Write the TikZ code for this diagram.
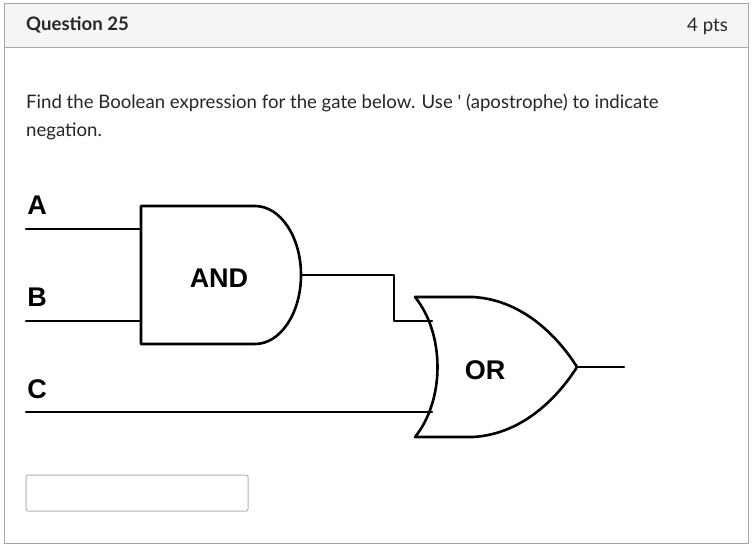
\documentclass[tikz,border=0pt]{standalone}
\usepackage{fontspec}
\setmainfont{Lato}
\newfontfamily\lab{Liberation Sans}
\begin{document}
\begin{tikzpicture}[x=1pt,y=-1pt,
  wire/.style={line width=2.6pt,line cap=round,line join=round},
  gatelbl/.style={font=\lab\bfseries\fontsize{27}{29}\selectfont},
  body/.style={font=\fontsize{18.6}{24}\selectfont,anchor=west,text=black!85,inner sep=0pt}]
\useasboundingbox (0,0) rectangle (753,548);
\fill[white] (0,0) rectangle (753,548);
\draw[fill=black!4,draw=none] (4,4) rectangle (748,48);
\draw[black!35,line width=1pt] (4,4) rectangle (748,543);
\draw[black!35,line width=1pt] (4,48) -- (748,48);
\node[body,font=\bfseries\fontsize{18.6}{24}\selectfont] (q) at (26,25) {Question 25};
\node[body,anchor=east] (p) at (728,26) {4 pts};
\node[body] (t1) at (26,103) {Find the Boolean expression for the gate below. Use \textquotesingle{} (apostrophe) to indicate};
\node[body] (t2) at (26,131) {negation.};
\node[gatelbl] (la) at (37,205) {A};
\node[gatelbl] (lb) at (37,297) {B};
\node[gatelbl] (lc) at (37,389) {C};
% AND gate
\draw[wire] (141,206) -- (255,206) .. controls (280.4,206) and (301,236.9) .. (301,275)
  .. controls (301,313.1) and (280.4,344) .. (255,344) -- (141,344) -- cycle;
\node[gatelbl] (and) at (219,278) {AND};
\coordinate (aout) at (301,275);
\draw[wire] (26,229) -- (141,229);
\draw[wire] (26,321) -- (141,321);
% OR gate
\draw[wire] (415,297) -- (473,297) .. controls (525,300) and (560,340) .. (577,367)
  .. controls (560,394) and (525,434) .. (473,437) -- (415,437)
  .. controls (445,400) and (445,334) .. (415,297);
\node[gatelbl] (or) at (485,370) {OR};
\coordinate (oout) at (624,367);
\draw[wire] (aout) -- (394,275) -- (394,321) -- (432,321);
\draw[wire] (26,412) -- (432,412);
\draw[wire] (577,367) -- (oout);
% answer box
\draw[black!30,line width=1pt,rounded corners=2pt] (26,475) rectangle (248,511);
\end{tikzpicture}
\end{document}
